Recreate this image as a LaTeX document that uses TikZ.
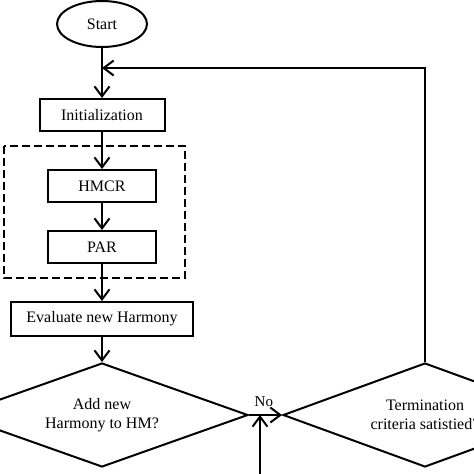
\documentclass[tikz,border=0pt]{standalone}
\usepackage{fontspec}
\setmainfont{Liberation Serif}
\usetikzlibrary{arrows.meta,positioning,shapes.geometric,calc}
\tikzstyle{box}=[rectangle,draw,line width=2pt,minimum height=32pt,inner sep=2pt,text centered,font=\fontsize{16}{19}\selectfont]
\tikzstyle{terminal}=[box,ellipse,minimum width=90pt,minimum height=46pt]
\tikzstyle{decision}=[box,diamond,align=center,shape aspect=2.8,minimum width=292pt,minimum height=104pt]
\tikzstyle{group}=[draw,line width=2pt,dash pattern=on 8pt off 4pt]
\tikzstyle{flow}=[-{Straight Barb[length=10pt,width=15pt]},line width=2pt]
\begin{document}
\begin{tikzpicture}[x=1pt,y=-1pt]

\clip (0,0) rectangle (474,474) ;

\node (start) [terminal] at (102,24) {Start} ;
\node (init) [box,minimum width=125pt,below=50pt of start] {Initialization} ;
\node (hmcr) [box,minimum width=108pt,below=37pt of init] {HMCR} ;
\node (par) [box,minimum width=108pt,below=27pt of hmcr] {PAR} ;
\node (eval) [box,minimum width=182pt,minimum height=34pt,below=37pt of par] {Evaluate new Harmony} ;

\draw [group] ($(hmcr.north west)+(-43,-23)$) rectangle ($(par.south east)+(28,14)$) ;

\draw [flow] (start) -- (init) ;
\draw [flow] (init) -- (hmcr) ;
\draw [flow] (hmcr) -- (par) ;
\draw [flow] (par) -- (eval) ;

\node (add) [decision,below=25pt of eval] {Add new\\Harmony to HM?} ;
\node (term) [decision,minimum width=284pt,right=33pt of add] {Termination\\criteria satistied?} ;

\draw [flow] (eval) -- (add) ;
\draw [flow] (add) -- (term) node [above=4pt,pos=0.45,font=\fontsize{15}{18}\selectfont] {No} ;

\coordinate [below=20pt of start] (back) ;
\coordinate [right=11pt of add.east] (merge) ;
\coordinate [below=70pt of merge] (low) ;

\draw [flow] (term) |- (back) ;
\draw [flow] (low) -- (merge) ;

\end{tikzpicture}
\end{document}
